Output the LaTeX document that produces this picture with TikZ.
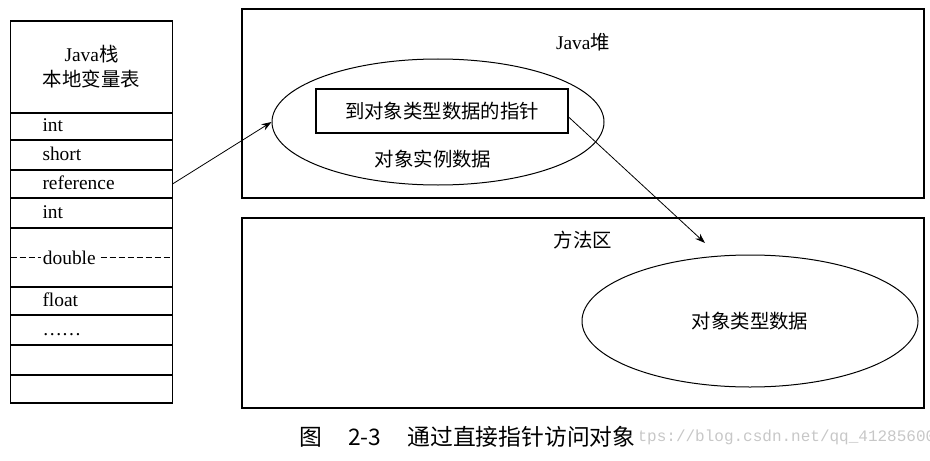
\documentclass[tikz,border=0pt]{standalone}
\usepackage{fontspec}
\setmainfont{Liberation Serif}
\newfontfamily\cjk{Noto Sans CJK SC}
\newfontfamily\wmark{Liberation Mono}
\usetikzlibrary{positioning}
\usetikzlibrary{shapes.geometric}
\usetikzlibrary{arrows.meta}
\tikzstyle{area}=[draw, line width=0.6pt, inner sep=0pt]
\tikzstyle{frame}=[draw, line width=0.6pt, minimum width=81pt, inner sep=0pt, outer sep=0pt]
\tikzstyle{slot}=[frame, inner xsep=16pt, text width=49pt, align=left, text height=7pt, text depth=2pt]
\tikzstyle{blob}=[draw, ellipse, line width=0.5pt, inner sep=0pt]
\tikzstyle{link}=[line width=0.4pt, -{Stealth[length=5pt, width=3.5pt]}]

\begin{document}
\fontsize{9.7}{12.5}\selectfont
\begin{tikzpicture}[x=0.5pt, y=-0.5pt]
  \useasboundingbox (0, 0) rectangle (930, 460);

  % stack frame
  \node[frame, text width=81pt, align=center, minimum height=46pt, anchor=north]
    (head) at (91.5, 21) {Java{\cjk 栈}\\{\cjk 本地变量表}};
  \node[slot, minimum height=13.5pt, below=0pt of head] (int1) {int};
  \node[slot, minimum height=15pt, below=0pt of int1] (short) {short};
  \node[slot, minimum height=14pt, below=0pt of short] (ref) {reference};
  \node[slot, minimum height=15pt, below=0pt of ref] (int2) {int};
  \node[slot, minimum height=29.5pt, below=0pt of int2] (dbl) {};
  \node[slot, minimum height=14pt, below=0pt of dbl] (float) {float};
  \node[slot, minimum height=15pt, below=0pt of float] (dots) {……};
  \node[slot, minimum height=15pt, below=0pt of dots] (free1) {};
  \node[slot, minimum height=14pt, below=0pt of free1] (free2) {};
  \draw[dash pattern=on 3pt off 1.5pt] (dbl.west) -- (dbl.east);
  \node[fill=white, inner xsep=1pt, inner ysep=0pt, anchor=west] (dbltxt) at ([xshift=15pt]dbl.west) {double};

  % heap
  \node[area, minimum width=341pt, minimum height=94.5pt] (heap) at (583, 103.5) {};
  \node (heaplbl) at (583, 42) {Java{\cjk 堆}};
  \node[blob, minimum width=166pt, minimum height=63pt] (inst) at (438, 122) {};
  \node[area, minimum width=126pt, minimum height=22pt] (ptr) at (442, 111) {\cjk 到对象类型数据的指针};
  \node (instlbl) at (433, 159) {\cjk 对象实例数据};

  % method area
  \node[area, minimum width=341pt, minimum height=95pt] (method) at (583, 313) {};
  \node (methodlbl) at (583, 240) {\cjk 方法区};
  \node[blob, minimum width=168pt, minimum height=66pt] (type) at (750, 321) {\cjk 对象类型数据};

  \coordinate (typetip) at (705, 243);
  \draw[link] (ref.east) -- (inst.west);
  \draw[link] ([yshift=-3pt]ptr.east) -- (typetip);

  % caption
  \node[anchor=west, inner sep=0pt, text=black!22, font=\wmark\fontsize{8}{10}\selectfont] (wm) at (618, 437) {https://blog.csdn.net/qq\_41285600};
  \node[fill=white, inner sep=2pt, font=\cjk\fontsize{11.4}{14}\selectfont] (caption) at (467.5, 437) {图\hspace{13pt}2-3\hspace{13pt}通过直接指针访问对象};
\end{tikzpicture}
\end{document}
